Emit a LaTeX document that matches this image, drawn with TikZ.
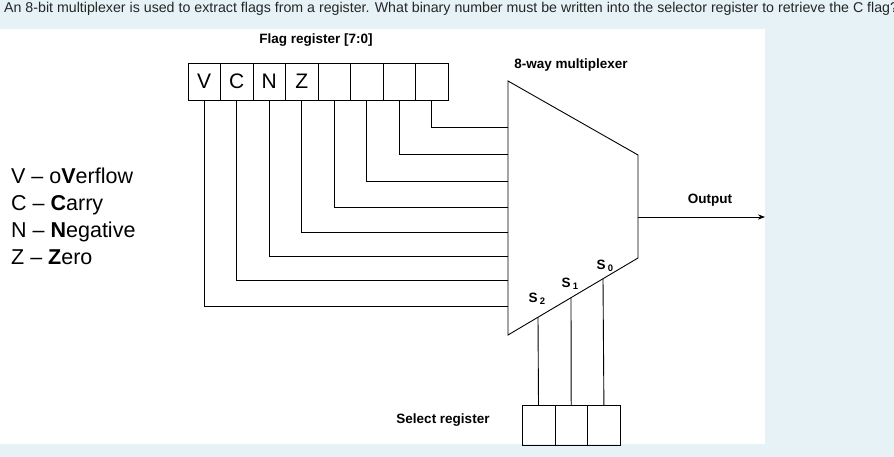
\documentclass[tikz,border=0pt]{standalone}
\usepackage{fontspec}
\setmainfont{Liberation Sans}
\usetikzlibrary{positioning, arrows.meta, calc}

\definecolor{pagebg}{HTML}{E6F2F5}

\tikzset{
  cell/.style={draw, minimum width=32.5pt, minimum height=37pt, inner sep=0pt, font=\fontsize{21}{21}\selectfont},
  scell/.style={draw, minimum width=32.7pt, minimum height=40pt, inner sep=0pt},
  lbl/.style={font=\bfseries\fontsize{13.5}{16}\selectfont},
  wire/.style={line width=0.9pt}
}

\begin{document}
\begin{tikzpicture}[x=1pt, y=1pt, >=Stealth]

    % page and panel
    \fill[pagebg] (0,0) rectangle (894,457);
    \useasboundingbox (0,0) rectangle (894,457);
    \fill[white] (0,13) rectangle (765,428);

    \node[anchor=west, font=\fontsize{14.2}{16}\selectfont, text=black!85, inner sep=0pt] (q) at (4,448)
      {An 8-bit multiplexer is used to extract flags from a register. What binary number must be written into the selector register to retrieve the C flag?};

    % flag register
    \foreach \i/\t in {0/V,1/C,2/N,3/Z,4/,5/,6/,7/}
      \node[cell] (f\i) at ({204.25+32.5*\i},375.5) {\t};
    \node[lbl] (flagreg) at (316,417) {Flag register [7:0]};

    % multiplexer
    \coordinate (mtl) at (508,376);
    \coordinate (mbl) at (508,122);
    \coordinate (mtr) at (638,302);
    \coordinate (mbr) at (638,199);
    \draw[wire] (mtl) -- (mtr) -- (mbr) -- (mbl) -- cycle;
    \node[lbl] (muxname) at (571,392) {8-way multiplexer};

    % flag wires into the mux
    \foreach \i/\y in {0/151,1/177,2/201,3/225,4/250,5/276,6/303,7/330} {
      \coordinate (in\i) at (508,\y);
      \draw[wire] (f\i.south) |- (in\i);
    }

    % output
    \coordinate (out) at (765,240);
    \draw[wire,->] (638,240) -- (out);
    \node[lbl] (outlbl) at (710,257) {Output};

    % select register
    \foreach \i in {0,1,2}
      \node[scell] (s\i) at ({538.5+32.7*\i},32) {};
    \node[lbl] (selreg) at (443,37) {Select register};
    \foreach \i/\x in {0/538,1/571,2/603}
      \coordinate (sel\i) at (\x,{122+(\x-508)*77/130});
    \foreach \i in {0,1,2}
      \draw[wire] (sel\i) -- (s\i.north);

    % select labels
    \node[lbl] (s2l) at (537,158) {S\,$_{\mathbf 2}$};
    \node[lbl] (s1l) at (570,173) {S\,$_{\mathbf 1}$};
    \node[lbl] (s0l) at (605,191) {S\,$_{\mathbf 0}$};

    % legend
    \node[anchor=north west, align=left, font=\fontsize{21.5}{27}\selectfont, inner sep=0pt] (legend) at (11,289)
      {V -- o\textbf{V}erflow\\C -- \textbf{C}arry\\N -- \textbf{N}egative\\Z -- \textbf{Z}ero};
\end{tikzpicture}
\end{document}
